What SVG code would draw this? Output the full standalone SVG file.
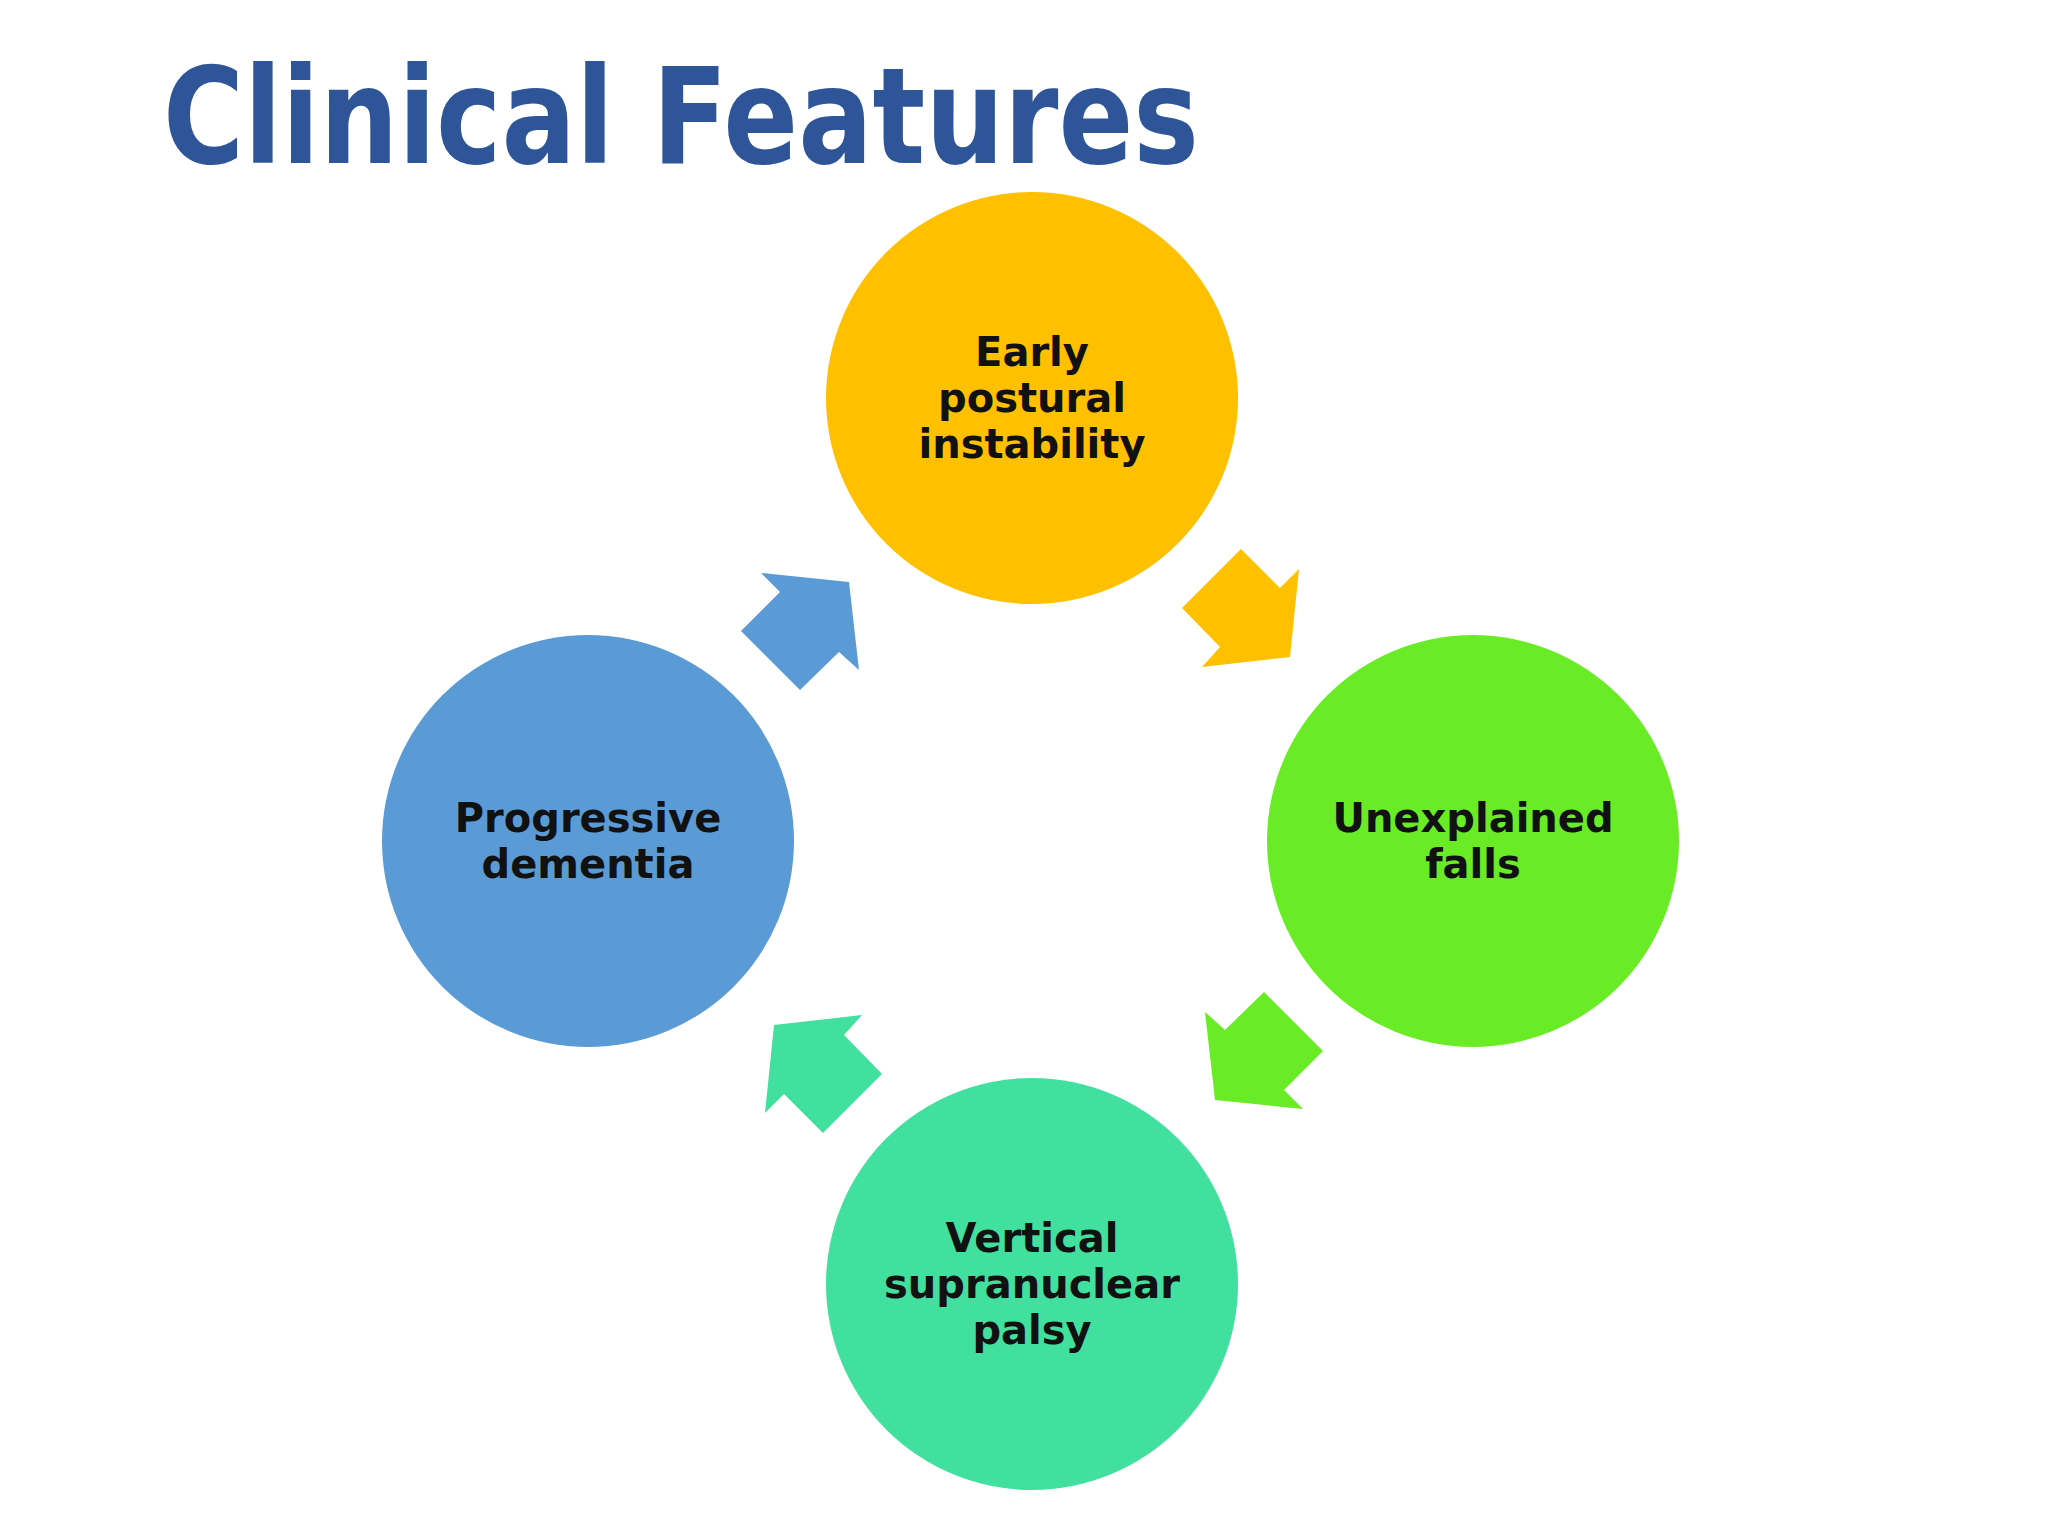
<svg xmlns="http://www.w3.org/2000/svg" width="2048" height="1536" viewBox="0 0 2048 1536">
<style>
.t{font-family:"DejaVu Sans",Verdana,sans-serif;font-weight:bold;font-size:40px;fill:#111;text-anchor:middle;dominant-baseline:central}
</style>
<defs><polygon id="arr" points="-11,-71 28,-32 47,-51 38,37 -50,47 -32,27 -70,-12"/></defs>
<rect width="2048" height="1536" fill="#fff"/>
<text x="163" y="163" font-family="DejaVu Sans,Verdana,sans-serif" font-weight="bold" font-size="134" fill="#2E5597" textLength="1036" lengthAdjust="spacingAndGlyphs">Clinical Features</text>
<g id="connectors">
<use href="#arr" transform="translate(1252,620)" fill="#FFC000"/>
<use href="#arr" transform="translate(1252,1062) rotate(90)" fill="#69EC25"/>
<use href="#arr" transform="translate(812,1062) rotate(180)" fill="#42E09E"/>
<use href="#arr" transform="translate(812,620) rotate(270)" fill="#5B9BD5"/>
</g>
<g id="n1"><circle cx="1032" cy="398" r="206" fill="#FFC000"/>
<text class="t" x="1032" y="352">Early</text><text class="t" x="1032" y="398">postural</text><text class="t" x="1032" y="444">instability</text></g>
<g id="n2"><circle cx="1473" cy="841" r="206" fill="#69EC25"/>
<text class="t" x="1473" y="818">Unexplained</text><text class="t" x="1473" y="864">falls</text></g>
<g id="n3"><circle cx="1032" cy="1284" r="206" fill="#42E09E"/>
<text class="t" x="1032" y="1238">Vertical</text><text class="t" x="1032" y="1284">supranuclear</text><text class="t" x="1032" y="1330">palsy</text></g>
<g id="n4"><circle cx="588" cy="841" r="206" fill="#5B9BD5"/>
<text class="t" x="588" y="818">Progressive</text><text class="t" x="588" y="864">dementia</text></g>
</svg>
